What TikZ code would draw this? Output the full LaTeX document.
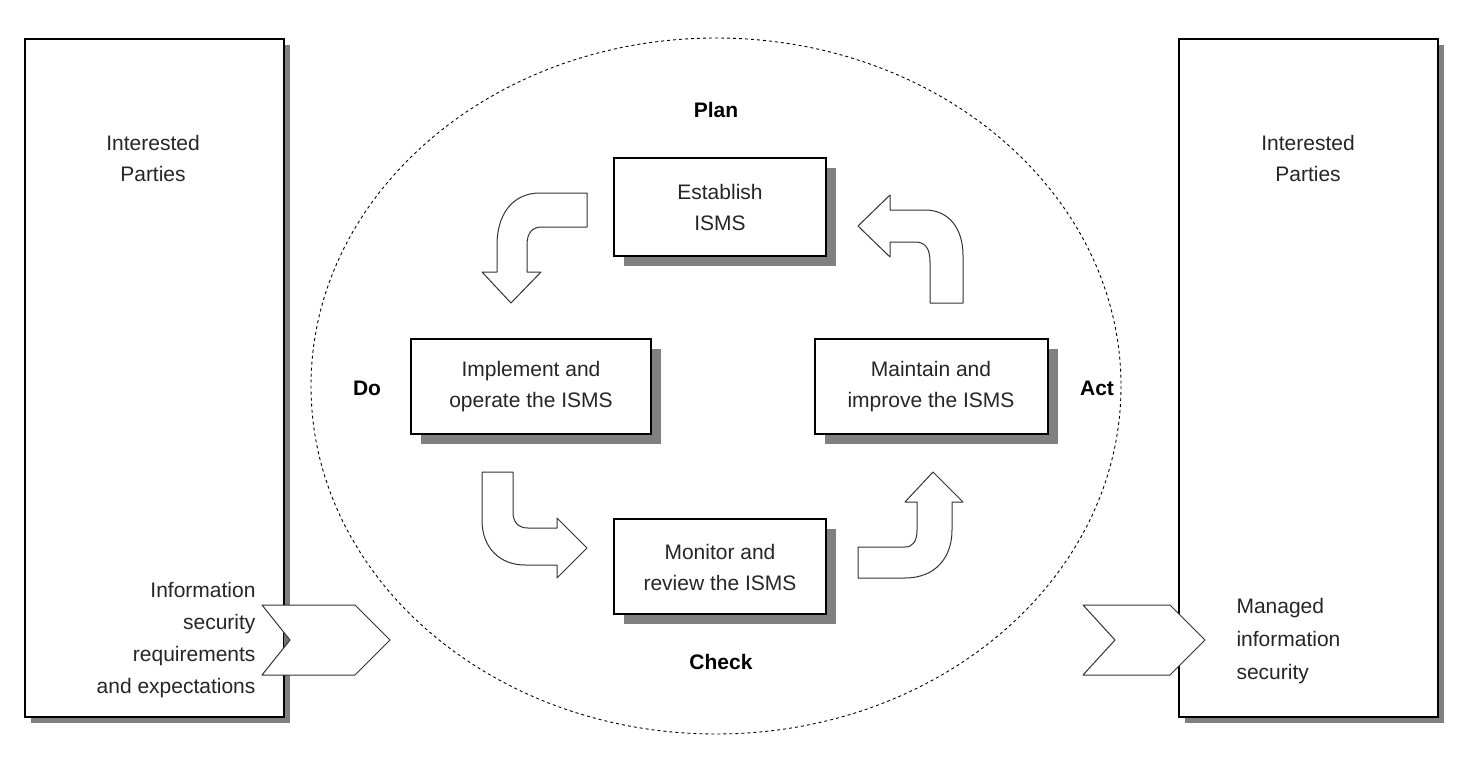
\documentclass[tikz,border=0pt]{standalone}
\usepackage{fontspec}
\setmainfont{Liberation Sans}
\begin{document}
\begin{tikzpicture}[x=1pt,y=-1pt,
  box/.style={draw=black,line width=1.2pt,fill=white},
  shad/.style={fill=black!50,draw=none},
  txt/.style={font=\fontsize{21}{31}\selectfont,text=black!85,align=center},
  lbl/.style={font=\fontsize{21}{25}\selectfont\bfseries},
  arr/.style={draw=black!80,line width=1pt,fill=white,line join=round}]
\useasboundingbox (0,0) rectangle (1464,769);
% outer boxes
\fill[shad] (31,45) rectangle (290,723);
\draw[box] (25,39) rectangle (284,717);
\fill[shad] (1185,45) rectangle (1444,723);
\draw[box] (1179,39) rectangle (1438,717);
\node[txt] (ipl) at (153,158) {Interested\\Parties};
\node[txt] (ipr) at (1308,158) {Interested\\Parties};
% ellipse
\draw[dashed,line width=0.9pt] (716,386) ellipse [x radius=405,y radius=348];
% inner boxes
\foreach \a/\b/\c/\d in {614/158/826/256, 411/339/651/434, 815/339/1048/434, 614/519/826/614}{
  \fill[shad] (\a+10,\b+10) rectangle (\c+10,\d+10);
  \draw[box] (\a,\b) rectangle (\c,\d);}
\node[txt] (est) at (720,207) {Establish\\ISMS};
\node[txt] (imp) at (531,387) {Implement and\\operate the ISMS};
\node[txt] (mai) at (931,387) {Maintain and\\improve the ISMS};
\node[txt] (mon) at (720,567) {Monitor and\\review the ISMS};
\node[lbl] (plan) at (716,110) {Plan};
\node[lbl] (do) at (367,388) {Do};
\node[lbl] (act) at (1097,388) {Act};
\node[lbl] (check) at (721,662) {Check};
% curved arrows
\draw[arr] (587,193) -- (540,193) .. controls (512,193) and (497,215) .. (497,245) -- (497,272) -- (482,272) -- (511,303) -- (541,272) -- (527,272) -- (527,245) .. controls (527,233) and (532,227) .. (542,227) -- (587,227) -- cycle;
\draw[arr] (930,303) -- (930,262) .. controls (930,248) and (925,242) .. (915,242) -- (890,242) -- (890,257) -- (858,226) -- (890,195) -- (890,210) -- (925,210) .. controls (950,210) and (963,230) .. (963,255) -- (963,303) -- cycle;
\draw[arr] (482,472) -- (482,520) .. controls (482,548) and (500,565) .. (525,565) -- (557,565) -- (557,578) -- (587,548) -- (557,518) -- (557,528) -- (528,528) .. controls (518,528) and (513,522) .. (513,512) -- (513,472) -- cycle;
\draw[arr] (858,578) -- (905,578) .. controls (935,578) and (952,558) .. (952,530) -- (952,502) -- (963,502) -- (933,472) -- (905,502) -- (917,502) -- (917,530) .. controls (917,541) and (913,547) .. (905,547) -- (858,547) -- cycle;
% chevrons
\fill[black!55] (284,628) -- (292,640) -- (284,652) -- cycle;
\draw[arr] (262,605) -- (355,605) -- (390,640) -- (355,675) -- (262,675) -- (290,640) -- cycle;
\draw[arr] (1083,605) -- (1170,605) -- (1205,640) -- (1170,675) -- (1083,675) -- (1115,640) -- cycle;
\node[txt,align=right,anchor=east,font=\fontsize{21}{32}\selectfont] (req) at (259,640) {Information\\security\\requirements\\and expectations};
\node[txt,align=left,anchor=west,font=\fontsize{21}{33}\selectfont] (man) at (1233,641) {Managed\\information\\security};
\end{tikzpicture}
\end{document}
